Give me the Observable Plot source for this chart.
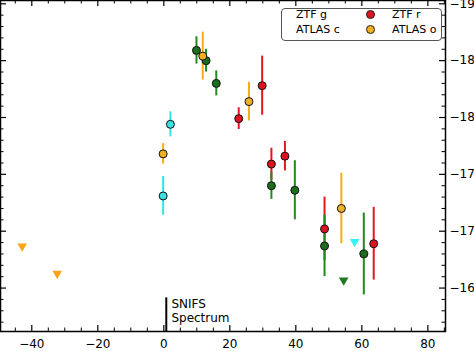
<!DOCTYPE html>
<html>
<head>
<meta charset="utf-8">
<script src="https://cdn.jsdelivr.net/npm/d3@7"></script>
<script src="https://cdn.jsdelivr.net/npm/@observablehq/plot@0.6"></script>
<style>
  html, body { margin: 0; padding: 0; background: white; overflow: hidden; }
  #wrap { position: relative; width: 474px; height: 351px; overflow: hidden; font-family: "DejaVu Sans", sans-serif; }
  #legend { position: absolute; left: 281px; top: 8px; width: 161px; height: 33px; box-sizing: border-box;
            border: 1px solid #555; border-radius: 4px; background: white; }
  .lt { position: absolute; font-size: 11px; line-height: 14px; color: black; white-space: nowrap; }
  .ld { position: absolute; width: 7px; height: 7px; border-radius: 50%; border: 1px solid #222; }
</style>
</head>
<body>
<div id="wrap"></div>
<script>
// ---- data (days since reference epoch, absolute magnitude, 1-sigma error) ----
const ztfG_t   = [9.9, 12.8, 15.9, 32.6, 39.7, 48.7, 60.6];
const ztfG_mag = [-18.59, -18.50, -18.30, -17.40, -17.36, -16.87, -16.80];
const ztfG_err = [0.12, 0.10, 0.11, 0.12, 0.26, 0.27, 0.36];

const ztfR_t   = [22.7, 29.8, 32.6, 36.7, 48.7, 63.6];
const ztfR_mag = [-17.99, -18.28, -17.59, -17.66, -17.02, -16.89];
const ztfR_err = [0.095, 0.26, 0.14, 0.13, 0.28, 0.32];

const atlasC_t   = [2.0, -0.2];
const atlasC_mag = [-17.94, -17.31];
const atlasC_err = [0.11, 0.17];

const atlasO_t   = [11.8, -0.2, 25.8, 53.8];
const atlasO_mag = [-18.54, -17.68, -18.14, -17.20];
const atlasO_err = [0.21, 0.09, 0.17, 0.31];

// upper limits
const limO_t = [-42.9, -32.3], limO_mag = [-16.86, -16.62];
const limC_t = [57.8],         limC_mag = [-16.90];
const limG_t = [54.5],         limG_mag = [-16.56];

const spectrumDay = 0.75;
const spectrumLabel = "SNIFS\nSpectrum";

const xTicks = [-40, -20, 0, 20, 40, 60, 80];
const yTicks = [-19.0, -18.5, -18.0, -17.5, -17.0, -16.5];
const legendLabels = ["ZTF g", "ATLAS c", "ZTF r", "ATLAS o"];

// ---- build ----
const rows = (t, m, e) => t.map((d, i) => ({t: d, mag: m[i], err: e ? e[i] : 0}));
const G = rows(ztfG_t, ztfG_mag, ztfG_err);
const R = rows(ztfR_t, ztfR_mag, ztfR_err);
const C = rows(atlasC_t, atlasC_mag, atlasC_err);
const O = rows(atlasO_t, atlasO_mag, atlasO_err);
const LO = rows(limO_t, limO_mag), LC = rows(limC_t, limC_mag), LG = rows(limG_t, limG_mag);

const xMinor = d3.range(-45, 86, 5).filter(v => !xTicks.includes(v));
const yMinor = d3.range(-190, -161, 1).map(v => v / 10).filter(v => !yTicks.some(t => Math.abs(t - v) < 1e-9));

const W = 474, H = 351, mL = 0, mR = 29, mT = 0, mB = 20;
const fw = W - mL - mR, fh = H - mT - mB;
const yBottom = -16.118, yTop = -19.029;

const downTri = {
  draw(ctx, size) {
    const r = Math.sqrt(size / Math.PI);
    ctx.moveTo(-r * 1.05, -r * 0.8);
    ctx.lineTo(r * 1.05, -r * 0.8);
    ctx.lineTo(0, r * 1.0);
    ctx.closePath();
  }
};
const fmt = d => (Number.isInteger(d) ? String(d) : d.toFixed(1)).replace("-", "\u2212");
const fmtY = d => d.toFixed(1).replace("-", "\u2212");

const cols = {
  gLine: "#1f8a1f", gDot: "#1b6e1b",
  rLine: "#e8141e", rDot: "#dc1420",
  cLine: "#2ee6e6", cDot: "#3fdede",
  oLine: "#f8ab12", oDot: "#efb024"
};

const errRule = (data, stroke) => Plot.ruleX(data, {x: "t", y1: d => d.mag - d.err, y2: d => d.mag + d.err, stroke, strokeWidth: 2});
const dots = (data, fill) => Plot.dot(data, {x: "t", y: "mag", r: 4, fill, stroke: "#111", strokeWidth: 1});

const chart = Plot.plot({
  width: W, height: H,
  marginLeft: mL, marginRight: mR, marginTop: mT, marginBottom: mB,
  style: {background: "white", fontFamily: "DejaVu Sans, sans-serif", fontSize: "12px", overflow: "visible"},
  x: {domain: [-49.48, 85.35]},
  y: {domain: [yBottom, yTop]},
  marks: [
    // error bars
    errRule(C, cols.cLine),
    errRule(O, cols.oLine),
    errRule(R, cols.rLine),
    errRule(G, cols.gLine),
    // markers
    dots(G, cols.gDot),
    dots(C, cols.cDot),
    dots(R, cols.rDot),
    dots(O, cols.oDot),
    // upper limits
    Plot.dot(LO, {x: "t", y: "mag", r: 4.6, symbol: downTri, fill: "#ffa31a", stroke: "none"}),
    Plot.dot(LC, {x: "t", y: "mag", r: 4.6, symbol: downTri, fill: "#33f2f2", stroke: "none"}),
    Plot.dot(LG, {x: "t", y: "mag", r: 4.6, symbol: downTri, fill: "#1f7a1f", stroke: "none"}),
    // spectrum epoch
    Plot.ruleX([spectrumDay], {x: d => d, y1: -16.414, y2: yBottom, stroke: "black", strokeWidth: 2}),
    Plot.text([spectrumLabel], {x: 2.3, y: -16.408, text: d => d, textAnchor: "start", lineAnchor: "top", fontSize: 12, lineHeight: 1.15, fill: "black"}),
    // ticks (inward, all four sides)
    Plot.ruleX(xTicks, {x: d => d, insetTop: fh - 6, stroke: "black", strokeWidth: 1.2}),
    Plot.ruleX(xTicks, {x: d => d, insetBottom: fh - 6, stroke: "black", strokeWidth: 1.2}),
    Plot.ruleX(xMinor, {x: d => d, insetTop: fh - 3.5, stroke: "black", strokeWidth: 1}),
    Plot.ruleX(xMinor, {x: d => d, insetBottom: fh - 3.5, stroke: "black", strokeWidth: 1}),
    Plot.ruleY(yTicks, {y: d => d, insetLeft: fw - 6, stroke: "black", strokeWidth: 1.2}),
    Plot.ruleY(yTicks, {y: d => d, insetRight: fw - 6, stroke: "black", strokeWidth: 1.2}),
    Plot.ruleY(yMinor, {y: d => d, insetLeft: fw - 3.5, stroke: "black", strokeWidth: 1}),
    Plot.ruleY(yMinor, {y: d => d, insetRight: fw - 3.5, stroke: "black", strokeWidth: 1}),
    Plot.frame({stroke: "black", strokeWidth: 1.5}),
    // tick labels
    Plot.axisX({ticks: xTicks, tickSize: 0, tickPadding: 8, tickFormat: fmt, fontSize: 12, label: null}),
    Plot.axisY({anchor: "right", ticks: yTicks, tickSize: 0, tickPadding: 4, tickFormat: fmtY, fontSize: 12, label: null})
  ]
});

const wrap = document.getElementById("wrap");
wrap.appendChild(chart);

// legend (inside the plot frame, top right)
const lg = document.createElement("div");
lg.id = "legend";
wrap.appendChild(lg);
const items = [
  {label: legendLabels[0], x: 296, y: 8,  dot: null},
  {label: legendLabels[1], x: 296, y: 23, dot: null},
  {label: legendLabels[2], x: 392, y: 8,  dot: cols.rDot},
  {label: legendLabels[3], x: 392, y: 23, dot: cols.oDot}
];
for (const it of items) {
  const t = document.createElement("div");
  t.className = "lt";
  t.textContent = it.label;
  t.style.left = it.x + "px";
  t.style.top = it.y + "px";
  wrap.appendChild(t);
  if (it.dot) {
    const d = document.createElement("div");
    d.className = "ld";
    d.style.background = it.dot;
    d.style.left = (it.x - 26) + "px";
    d.style.top = (it.y + 2) + "px";
    wrap.appendChild(d);
  }
}
</script>
</body>
</html>
